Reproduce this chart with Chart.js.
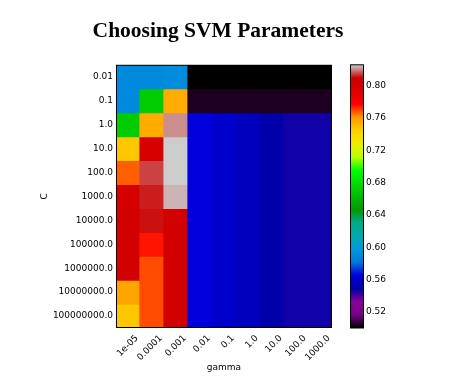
<!DOCTYPE html>
<html>
<head>
<meta charset="utf-8">
<script src="https://cdn.jsdelivr.net/npm/chart.js@4/dist/chart.umd.min.js"></script>
<style>
  html, body { margin: 0; padding: 0; background: #fff; }
</style>
</head>
<body>
<canvas id="heat" width="474" height="391"></canvas>
<script>
const gammaLabels = ['1e-05', '0.0001', '0.001', '0.01', '0.1', '1.0', '10.0', '100.0', '1000.0'];
const cLabels = ['0.01', '0.1', '1.0', '10.0', '100.0', '1000.0', '10000.0',
                 '100000.0', '1000000.0', '10000000.0', '100000000.0'];

// mean cross-validation score, one row per C, one column per gamma
const scores = [
  [0.590, 0.590, 0.592, 0.500, 0.500, 0.500, 0.500, 0.500, 0.500],
  [0.590, 0.671, 0.755, 0.504, 0.504, 0.504, 0.504, 0.504, 0.504],
  [0.671, 0.755, 0.821, 0.565, 0.560, 0.555, 0.549, 0.547, 0.547],
  [0.746, 0.800, 0.826, 0.565, 0.560, 0.555, 0.549, 0.547, 0.547],
  [0.767, 0.815, 0.826, 0.565, 0.560, 0.555, 0.549, 0.547, 0.547],
  [0.800, 0.812, 0.824, 0.565, 0.560, 0.555, 0.549, 0.547, 0.547],
  [0.803, 0.811, 0.803, 0.565, 0.560, 0.555, 0.549, 0.547, 0.547],
  [0.803, 0.775, 0.803, 0.565, 0.560, 0.555, 0.549, 0.547, 0.547],
  [0.803, 0.769, 0.803, 0.565, 0.560, 0.555, 0.549, 0.547, 0.547],
  [0.757, 0.769, 0.803, 0.565, 0.560, 0.555, 0.549, 0.547, 0.547],
  [0.746, 0.769, 0.803, 0.565, 0.560, 0.555, 0.549, 0.547, 0.547]
];

const colorbarTicks = [0.52, 0.56, 0.60, 0.64, 0.68, 0.72, 0.76, 0.80];

// matplotlib's nipy_spectral colormap: [position, r, g, b]
const nipySpectral = [
  [0.00, 0.0, 0.0, 0.0], [0.05, 0.4667, 0.0, 0.5333], [0.10, 0.5333, 0.0, 0.6],
  [0.15, 0.0, 0.0, 0.6667], [0.20, 0.0, 0.0, 0.8667], [0.25, 0.0, 0.4667, 0.8667],
  [0.30, 0.0, 0.6, 0.8667], [0.35, 0.0, 0.6667, 0.6667], [0.40, 0.0, 0.6667, 0.5333],
  [0.45, 0.0, 0.6, 0.0], [0.50, 0.0, 0.7333, 0.0], [0.55, 0.0, 0.8667, 0.0],
  [0.60, 0.0, 1.0, 0.0], [0.65, 0.7333, 1.0, 0.0], [0.70, 0.9333, 0.9333, 0.0],
  [0.75, 1.0, 0.8, 0.0], [0.80, 1.0, 0.6, 0.0], [0.85, 1.0, 0.0, 0.0],
  [0.90, 0.8667, 0.0, 0.0], [0.95, 0.8, 0.0, 0.0], [1.00, 0.8, 0.8, 0.8]
];

function cmap(t) {
  t = Math.max(0, Math.min(1, t));
  let i = 0;
  while (i < nipySpectral.length - 2 && t > nipySpectral[i + 1][0]) i++;
  const a = nipySpectral[i], b = nipySpectral[i + 1];
  const f = (t - a[0]) / (b[0] - a[0]);
  const c = [1, 2, 3].map(k => Math.round(255 * (a[k] + f * (b[k] - a[k]))));
  return `rgb(${c[0]},${c[1]},${c[2]})`;
}

const allScores = scores.flat();
const vmin = Math.min(...allScores);
const vmax = Math.max(...allScores);
const norm = v => (v - vmin) / (vmax - vmin);

const tickFont = { family: 'DejaVu Sans', size: 9 };

// one stacked dataset per C row, each cell one unit tall
const datasets = cLabels.map((c, r) => ({
  label: c,
  data: gammaLabels.map(() => 1),
  backgroundColor: scores[r].map(v => cmap(norm(v))),
  borderWidth: 0,
  inflateAmount: 0.6,
  barPercentage: 1,
  categoryPercentage: 1
}));

// colorbar drawn inside the right-hand scale, plus black frames
const frames = {
  id: 'frames',
  afterDatasetsDraw(chart) {
    const { ctx, chartArea: a, scales } = chart;
    const cb = scales.cb;
    const x0 = cb.left + 18.5, w = 13;
    const yTop = cb.getPixelForValue(vmax), yBot = cb.getPixelForValue(vmin);
    const grad = ctx.createLinearGradient(0, yBot, 0, yTop);
    for (let i = 0; i <= 100; i++) grad.addColorStop(i / 100, cmap(i / 100));
    ctx.save();
    ctx.fillStyle = grad;
    ctx.fillRect(x0, yTop, w, yBot - yTop);
    ctx.strokeStyle = '#000';
    ctx.lineWidth = 1;
    ctx.strokeRect(x0, yTop, w, yBot - yTop);
    ctx.fillStyle = '#fff';
    // trim the inflated bars back to the plot frame
    ctx.fillRect(a.left - 2, a.top - 2, a.right - a.left + 4, 2);
    ctx.fillRect(a.left - 2, a.bottom, a.right - a.left + 4, 2);
    ctx.fillRect(a.left - 2, a.top - 2, 2, a.bottom - a.top + 4);
    ctx.fillRect(a.right, a.top - 2, 2, a.bottom - a.top + 4);
    ctx.strokeRect(a.left + 0.5, a.top + 0.5, a.right - a.left - 1, a.bottom - a.top - 1);
    ctx.restore();
  }
};

new Chart(document.getElementById('heat'), {
  type: 'bar',
  data: { labels: gammaLabels, datasets },
  plugins: [frames],
  options: {
    responsive: false,
    animation: false,
    layout: { padding: { left: 0, right: 38, top: 0, bottom: 0 } },
    plugins: {
      legend: { display: false },
      tooltip: { enabled: false },
      title: {
        display: true,
        text: 'Choosing SVM Parameters',
        color: '#000',
        font: { family: 'Liberation Serif', size: 21.5, weight: 'bold' },
        padding: { top: 19, bottom: 20 }
      }
    },
    scales: {
      x: {
        stacked: true,
        grid: { display: false, drawTicks: false },
        border: { display: false },
        ticks: {
          color: '#000', font: tickFont, autoSkip: false,
          minRotation: 45, maxRotation: 45, labelOffset: 9, padding: 5
        },
        title: { display: true, text: 'gamma', color: '#000', font: tickFont, padding: { top: 0, bottom: 18 } },
        afterFit: s => { s.height = 63; }
      },
      y: {
        type: 'linear',
        stacked: true,
        reverse: true,
        min: 0,
        max: cLabels.length,
        grid: { display: false, drawTicks: false },
        border: { display: false },
        afterBuildTicks: s => { s.ticks = cLabels.map((_, i) => ({ value: i + 0.5 })); },
        ticks: {
          color: '#000', font: tickFont, autoSkip: false, padding: 3,
          callback: v => cLabels[Math.floor(v)]
        },
        title: { display: true, text: 'C', color: '#000', font: tickFont, padding: { top: 39, bottom: 0 } },
        afterFit: s => { s.width = 116; }
      },
      cb: {
        type: 'linear',
        position: 'right',
        min: vmin,
        max: vmax,
        grid: { display: false, drawTicks: false },
        border: { display: false },
        afterBuildTicks: s => { s.ticks = colorbarTicks.map(v => ({ value: v })); },
        ticks: {
          color: '#000', font: tickFont, autoSkip: false, padding: 34,
          callback: v => v.toFixed(2)
        },
        afterFit: s => { s.width = 104; }
      }
    }
  }
});
</script>
</body>
</html>
